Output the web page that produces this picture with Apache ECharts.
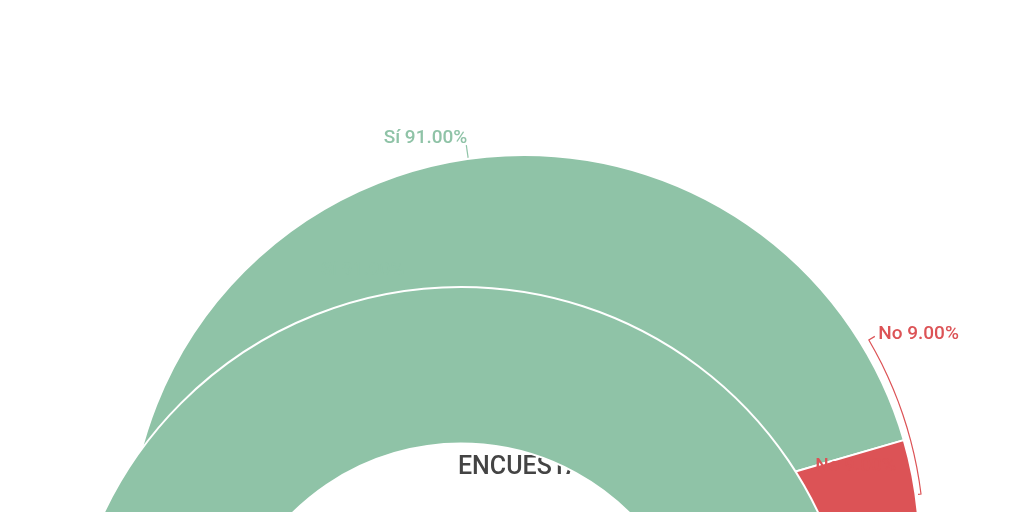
<!DOCTYPE html>
<html>
<head>
<meta charset="utf-8">
<script src="https://cdn.jsdelivr.net/npm/echarts@6/dist/echarts.min.js"></script>
<style>
  html, body { margin: 0; padding: 0; background: #fff; }
  #main { width: 1024px; height: 512px; }
</style>
</head>
<body>
<div id="main"></div>
<script>
// survey answers, same split in both rings
var answers = ['Sí', 'No'];
var frontValues = [91, 9];
var backValues = [91, 9];
var answerColors = ['#8fc3a7', '#dc5356'];

var LABEL_LIFT = 23.3; // degrees the small slice label slides up along the ring

function toData(vals) {
  var out = [];
  for (var i = 0; i < answers.length; i++) {
    out.push({ name: answers[i], value: vals[i] });
  }
  return out;
}

// label + guide line placed around the half ring (180deg -> 0deg clockwise)
function ringLabels(vals, center, r) {
  var total = 0;
  for (var i = 0; i < vals.length; i++) total += vals[i];
  function pt(deg, rad) {
    var t = deg * Math.PI / 180;
    return [center[0] + rad * Math.cos(t), center[1] - rad * Math.sin(t)];
  }
  return function (params) {
    var before = 0;
    for (var k = 0; k < params.dataIndex; k++) before += vals[k];
    var a0 = 180 - 180 * before / total;
    var a1 = 180 - 180 * (before + vals[params.dataIndex]) / total;
    var mid = (a0 + a1) / 2;
    if (mid > 60) {
      var tip = pt(mid, r + 14);
      return {
        x: tip[0] + 1, y: tip[1] + 3, align: 'right', verticalAlign: 'bottom',
        labelLinePoints: [pt(mid, r + 1), tip]
      };
    }
    // small slice near the bottom: bracket that follows the ring up to the label
    var top = mid + LABEL_LIFT;
    var pts = [pt(mid, r + 2.5)];
    var steps = 12;
    for (var s = 0; s <= steps; s++) {
      var f = s / steps;
      pts.push(pt(mid + (top - mid) * f, r + 5.5 + 3 * f));
    }
    pts.push(pt(top, r + 15.5));
    var at = pt(top, r + 19.5);
    return {
      x: at[0], y: at[1], align: 'left', verticalAlign: 'middle',
      labelLinePoints: pts
    };
  };
}

function makePie(vals, center, radius) {
  return {
    type: 'pie',
    startAngle: 180,
    endAngle: 0,
    center: center,
    radius: radius,
    itemStyle: { borderColor: '#fff', borderWidth: 2 },
    label: {
      show: true,
      position: 'outside',
      color: 'inherit',
      fontSize: 19,
      fontWeight: 500,
      overflow: 'none',
      textBorderWidth: 0,
      textShadowBlur: 0,
      formatter: function (p) {
        return p.name + ' ' + p.percent.toFixed(2) + '%';
      }
    },
    labelLine: { length: 14, length2: 0, lineStyle: { width: 1.2 } },
    labelLayout: ringLabels(vals, center, radius[1]),
    data: toData(vals)
  };
}

var myChart = echarts.init(document.getElementById('main'));
var option = {
  animation: false,
  color: answerColors,
  textStyle: { fontFamily: 'Roboto' },
  title: {
    text: 'ENCUESTA',
    left: 453,
    top: 450,
    z: 1,
    textStyle: { fontSize: 25, fontWeight: 500, color: '#444', fontFamily: 'Roboto' }
  },
  series: [
    makePie(frontValues, [524, 550.5], [239, 395.5]),
    makePie(backValues, [461, 682.5], [239, 395.5])
  ]
};
myChart.setOption(option);
</script>
</body>
</html>
